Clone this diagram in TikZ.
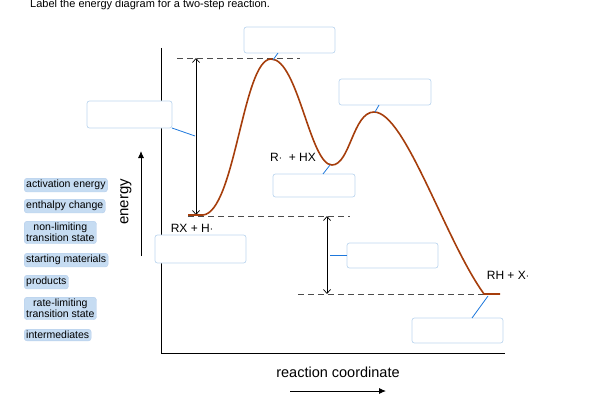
\documentclass[tikz,border=0pt]{standalone}
\usepackage{fontspec}
\setmainfont{Liberation Sans}
\usetikzlibrary{arrows.meta}
\definecolor{chipfill}{RGB}{198,220,242}
\definecolor{chipdraw}{RGB}{180,205,235}
\definecolor{boxdraw}{RGB}{190,215,240}
\definecolor{leadc}{RGB}{30,120,220}
\definecolor{curvec}{RGB}{166,62,12}
\begin{document}
\begin{tikzpicture}[x=1pt,y=-1pt,
  ans/.style={draw=boxdraw, fill=white, rounded corners=2.5pt, line width=0.7pt},
  chip/.style={fill=chipfill, draw=chipdraw, rounded corners=3pt, font=\fontsize{10.5}{10.5}\selectfont, inner sep=2pt, align=center, anchor=north west},
  lead/.style={draw=leadc, line width=0.8pt},
  dsh/.style={dash pattern=on 6pt off 4pt, draw=black!70, line width=0.6pt},
  dbl/.style={{Straight Barb[length=4pt,width=7pt]}-{Straight Barb[length=4pt,width=7pt]}, line width=0.7pt},
  lbl/.style={font=\fontsize{12}{12}\selectfont}]
\useasboundingbox (0,0) rectangle (604,401);
\node[anchor=west, font=\fontsize{11}{11}\selectfont, inner sep=0pt] (title) at (30,5) {Label the energy diagram for a two-step reaction.};
% axes
\coordinate (ytop) at (161,48); \coordinate (org) at (161,353); \coordinate (xend) at (505,353);
\draw[line width=0.8pt] (ytop) -- (org) -- (xend);
% dashed levels
\coordinate (d1a) at (177,58); \coordinate (d1b) at (300,58);
\coordinate (d2a) at (188,216); \coordinate (d2b) at (350,216);
\coordinate (d3a) at (298,294); \coordinate (d3b) at (500,294);
\draw[dsh] (d1a) -- (d1b); \draw[dsh] (d2a) -- (d2b); \draw[dsh] (d3a) -- (d3b);
% arrows
\coordinate (a1t) at (196,58); \coordinate (a1b) at (196,215);
\coordinate (a2t) at (327,216); \coordinate (a2b) at (327,294);
\draw[dbl] (a1t) -- (a1b);
\draw[dbl] (a2t) -- (a2b);
% curve
\coordinate (s) at (188,215); \coordinate (s2) at (203,215);
\coordinate (p1) at (271,59); \coordinate (m) at (332,165); \coordinate (p2) at (374,112);
\coordinate (e) at (484,294); \coordinate (e2) at (500,294);
\draw[line width=1.6pt, curvec] (s) -- (s2)
  .. controls (235,212) and (243,59) .. (p1)
  .. controls (298,59) and (310,165) .. (m)
  .. controls (350,165) and (353,112) .. (p2)
  .. controls (405,112) and (445,240) .. (e) -- (e2);
% answer boxes
\draw[ans] (244,27) rectangle (335,53);
\draw[ans] (87,101) rectangle (172,128);
\draw[ans] (339,79) rectangle (431,105);
\draw[ans] (273,174) rectangle (355,197);
\draw[ans] (155,235) rectangle (246,263);
\draw[ans] (347,243) rectangle (438,268);
\draw[ans] (412,318) rectangle (503,343);
% leaders
\draw[lead] (278,53) -- (273,60);
\draw[lead] (172,128) -- (195,136);
\draw[lead] (379,105) -- (375,112);
\draw[lead] (323,174) -- (330,165);
\draw[lead] (347,255) -- (330,255);
\draw[lead] (472,318) -- (488,296);
% species labels
\node[lbl] (r) at (293,157) {R$\cdot$\ \ + HX};
\node[lbl] (rx) at (192,228) {RX + H$\cdot$};
\node[lbl] (rh) at (508,275) {RH + X$\cdot$};
% axis labels
\node[rotate=90, font=\fontsize{15}{15}\selectfont] (en) at (126,202) {energy};
\coordinate (ea) at (141,256); \coordinate (eb) at (141,151);
\draw[-{Latex[length=7pt,width=6pt]}, line width=0.9pt] (ea) -- (eb);
\node[font=\fontsize{14.5}{15}\selectfont] (rc) at (338,372) {reaction coordinate};
\coordinate (ra) at (290,391); \coordinate (rb) at (386,391);
\draw[-{Latex[length=7pt,width=6pt]}, line width=0.9pt] (ra) -- (rb);
% chips
\node[chip] (c1) at (24,178) {activation energy};
\node[chip] (c2) at (24,199) {enthalpy change};
\node[chip, font=\fontsize{10.5}{9.5}\selectfont] (c3) at (24,221) {non-limiting\\transition state};
\node[chip] (c4) at (24,253) {starting materials};
\node[chip] (c5) at (24,275) {products};
\node[chip, font=\fontsize{10.5}{9.5}\selectfont] (c6) at (24,297) {rate-limiting\\transition state};
\node[chip] (c7) at (24,329) {intermediates};
\end{tikzpicture}
\end{document}
